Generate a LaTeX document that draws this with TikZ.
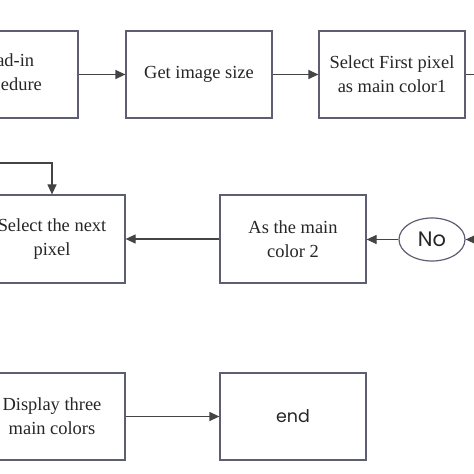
\documentclass[tikz,border=0pt]{standalone}
\usepackage{fontspec}
\setmainfont{Liberation Serif}
\newfontfamily\sansfam{Poppins}
\usetikzlibrary{arrows.meta,shapes.geometric}
\definecolor{edgecol}{HTML}{5E5E72}
\definecolor{linecol}{HTML}{444444}
\definecolor{txtcol}{HTML}{262626}
\tikzset{
  procbox/.style={draw=edgecol, line width=1.2bp, fill=white, minimum width=146bp, minimum height=87bp, inner sep=0pt, align=center, text=txtcol, font=\fontsize{18.5}{24}\selectfont},
  oval/.style={ellipse, draw=edgecol, line width=1.2bp, minimum width=66bp, minimum height=43bp, inner sep=0pt, text=txtcol, font=\sansfam\fontsize{21}{24}\selectfont},
  conn/.style={draw=linecol, line width=1.2bp, -{Triangle[length=10bp,width=9bp]}},
  plainconn/.style={draw=linecol, line width=1.2bp}
}
\begin{document}
\begin{tikzpicture}[x=1bp,y=-1bp]
\useasboundingbox (0,0) rectangle (474,474);
\clip (0,0) rectangle (474,474);
\fill[white] (0,0) rectangle (474,474);
% top row
\node[procbox] (load) at (5,74.5) {Load-in\\procedure};
\node[procbox] (size) at (199,74.5) {Get image size};
\node[procbox] (first) at (392,74.5) {Select First pixel\\as main color1};
% middle row
\node[procbox, minimum height=88bp] (next) at (52,239) {Select the next\\pixel};
\node[procbox, minimum height=88bp] (main2) at (293,239) {As the main\\color 2};
\node[oval] (no) at (432,239.5) {No};
% bottom row
\node[procbox] (disp) at (52,416.5) {Display three\\main colors};
\node[procbox, font=\sansfam\fontsize{17.5}{22}\selectfont] (end) at (293,416.5) {end};
% free ends
\coordinate (outR) at (485,74.5);
\coordinate (inR) at (485,239.5);
\coordinate (loopL) at (-10,163);
% connectors
\draw[conn] (load.east) -- (size.west);
\draw[conn] (size.east) -- (first.west);
\draw[plainconn] (first.east) -- (outR);
\draw[conn] (inR) -- (no.east);
\draw[conn] (no.west) -- (main2.east |- no.west);
\draw[conn] (main2.west) -- (next.east);
\draw[conn] (loopL) -| (next.north);
\draw[conn] (disp.east) -- (end.west);
\end{tikzpicture}
\end{document}
